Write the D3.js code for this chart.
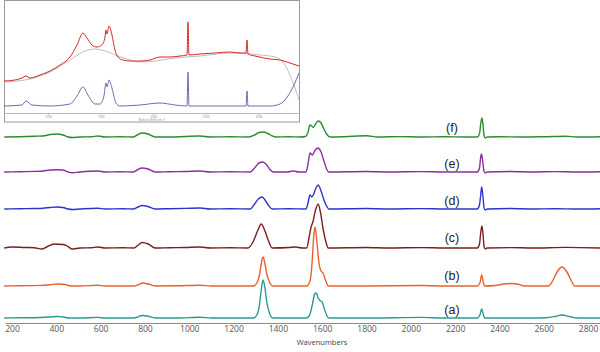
<!DOCTYPE html>
<html><head><meta charset="utf-8">
<script src="https://cdn.jsdelivr.net/npm/d3@7"></script>
<style>html,body{margin:0;padding:0;background:#fff;}svg{display:block;}</style>
</head><body>
<svg id="c" width="600" height="352"></svg>
<script>
// ---------- DATA ----------
const tickLabels = [200,400,600,800,1000,1200,1400,1600,1800,2000,2200,2400,2600,2800];
const seriesNames = ["(a)","(b)","(c)","(d)","(e)","(f)"];
const seriesColors = ["#2a9a8e","#e8612c","#7b1e1e","#2b35c8","#8b2f9b","#2e8b2e"];
const seriesOffsets = [0,32,70,109,146,181];

const specA = [[165,0],[236,0.2],[330,0.5],[372,1],[403,1.5],[430,1],[460,0],[507,0],[588,0.6],[620,0],[700,0],[750,0],[770,1.2],[787,2.5],[810,2],[846,0],[950,0],[1049,0.8],[1100,0],[1200,0],[1290,0],[1305,3],[1316,12],[1325,28],[1333,38],[1341,31],[1350,16],[1362,5],[1378,0],[1450,0],[1530,0],[1545,4],[1558,16],[1566,24],[1573,25],[1582,20],[1592,17],[1600,16],[1610,9],[1620,3],[1630,0],[1800,0],[2050,0.6],[2150,0],[2300,0],[2312,3],[2320,9],[2327,4],[2333,0],[2400,0],[2550,0],[2610,0.3],[2650,1.5],[2683,3],[2715,1.5],[2750,0],[2855,0]];
const specB = [[165,0],[236,0.3],[330,0.6],[372,1.3],[410,2],[440,1.5],[465,0],[507,0],[588,0.8],[620,0],[700,0],[750,0],[772,1.5],[790,3],[815,2],[846,0],[950,0.2],[1049,0.8],[1100,0],[1200,0],[1290,0],[1305,3],[1316,10],[1325,22],[1333,29],[1341,23],[1350,12],[1362,4],[1378,0],[1450,0],[1530,0],[1545,5],[1555,25],[1562,50],[1568,59],[1575,47],[1585,24],[1595,15],[1604,13],[1615,6],[1628,0],[1800,0],[2050,0.5],[2150,0],[2300,0],[2312,3],[2320,11],[2327,4],[2333,0],[2380,0.5],[2420,2],[2450,2.5],[2490,1.5],[2510,0],[2620,0],[2640,5],[2660,14],[2683,19],[2705,14],[2725,5],[2740,0],[2855,0]];
const specC = [[165,0],[200,1],[260,0.5],[300,0.3],[335,-1],[360,1.5],[390,4],[430,3.5],[450,2],[470,-1],[507,0],[560,0.3],[588,1],[620,0],[700,0.2],[750,0],[770,3],[787,5.5],[815,4],[846,0],[913,0.3],[981,0.5],[1049,1],[1094,0],[1184,0.3],[1265,0],[1290,7],[1310,18],[1325,24],[1340,18],[1358,7],[1374,0],[1450,0.5],[1480,1],[1510,0],[1530,0],[1542,12],[1550,21],[1558,26],[1570,38],[1582,44],[1592,36],[1605,18],[1617,6],[1627,0],[1800,0.5],[1900,0],[2050,0.4],[2150,0],[2300,0],[2310,4],[2316,16],[2321,22],[2326,14],[2331,1],[2337,-1],[2345,0],[2450,0.4],[2550,0],[2700,0.6],[2855,0]];
const specD = [[165,0],[236,0.3],[304,0.5],[340,0.8],[372,1.5],[403,2],[430,1.5],[453,0],[471,-0.5],[507,0],[588,0.8],[620,0],[700,0.2],[746,0],[769,2],[787,3.5],[814,2.5],[846,0],[913,0.3],[981,0.6],[1049,1],[1094,0],[1184,0.3],[1275,0],[1295,5],[1312,10],[1329,12],[1345,8],[1360,3],[1374,0],[1450,0.3],[1527,0],[1536,6],[1545,14],[1553,12],[1562,15],[1572,21],[1582,24],[1595,18],[1608,9],[1620,3],[1630,0],[1800,0.5],[1900,0],[2050,0.4],[2150,0],[2300,0],[2310,4],[2316,15],[2320,22],[2325,14],[2331,1],[2337,-1],[2345,0],[2450,0.5],[2550,0],[2650,0.3],[2750,0],[2855,0.3]];
const specE = [[165,0],[236,0.3],[304,0.6],[340,1],[372,2],[403,2.3],[430,2],[453,0],[471,-0.8],[507,0],[588,1],[620,0],[688,0.2],[746,0],[769,2.5],[787,4],[814,3],[846,0],[913,0.3],[981,0.5],[1049,1],[1094,0],[1184,0.3],[1275,0],[1295,4],[1315,9],[1333,10],[1350,7],[1366,2],[1380,0],[1440,0],[1470,1],[1495,0],[1527,0],[1536,8],[1545,19],[1556,17],[1566,21],[1580,24],[1595,20],[1608,11],[1620,3],[1630,0],[1800,0.5],[1900,0],[2050,0.4],[2150,0],[2300,0],[2310,4],[2315,14],[2319,18],[2324,12],[2330,1],[2336,-1],[2345,0],[2450,0.5],[2550,0],[2650,0.4],[2750,0],[2855,0.3]];
const specF = [[165,0],[236,0.3],[304,0.8],[340,1],[372,2.5],[403,3],[430,2],[453,0],[471,-0.5],[507,0],[560,0.3],[588,1],[620,0],[688,0.2],[746,0],[769,2.5],[787,4],[814,3],[846,0],[913,0],[981,0.5],[1049,1],[1094,0],[1184,0.3],[1270,0],[1295,2],[1315,4.5],[1333,5],[1355,3.5],[1375,1],[1390,0],[1450,0.3],[1500,0],[1525,0.5],[1535,4],[1545,12],[1553,11],[1560,9.5],[1570,13],[1582,16],[1595,14],[1608,8],[1620,3],[1636,0],[1700,0.3],[1800,1.2],[1850,0],[1950,0.4],[2050,0],[2150,0.3],[2250,0],[2300,0],[2310,3],[2316,14],[2321,19],[2326,12],[2331,1],[2337,-1],[2345,0],[2400,0.2],[2500,0],[2600,0.3],[2700,0.8],[2750,0],[2855,0.3]];
const spectra = [specA, specB, specC, specD, specE, specF];

// Inset (Raman shift, cm-1)
const insetTicks = [1000,1500,2000,2500,3000];
const insetRaw = [[582,32],[686,33],[753,35],[791,37],[829,35],[924,38],[1019,42],[1114,48],[1209,56],[1276,68],[1333,80],[1371,75],[1418,68],[1466,66],[1513,68],[1542,76],[1551,83],[1561,79],[1580,87],[1608,78],[1637,63],[1665,56],[1713,53],[1779,52],[1875,52],[1970,53],[2065,56],[2160,56],[2255,57],[2321,58],[2331,91],[2340,58],[2445,59],[2587,60],[2730,61],[2825,60],[2882,60],[2892,73],[2901,59],[2968,57],[3110,54],[3205,53],[3300,50],[3386,47]];
const insetBackground = [[582,31],[829,34],[1019,41],[1209,53],[1352,62],[1447,64],[1542,62],[1665,57],[1779,53],[1875,51],[2018,52],[2208,55],[2445,57],[2730,60],[3015,58],[3158,56],[3234,51],[3300,38],[3348,25],[3386,13]];
const insetCorrected = [[582,7],[753,8],[791,12],[848,8],[1019,7],[1209,9],[1276,17],[1333,26],[1380,18],[1447,9],[1494,9],[1532,17],[1551,30],[1561,26],[1580,33],[1608,25],[1646,10],[1684,7],[1875,8],[2065,10],[2208,8],[2321,7],[2331,41],[2340,7],[2635,7],[2882,7],[2892,22],[2901,7],[3110,7],[3205,9],[3281,17],[3338,28],[3386,40]];

// ---------- DRAW ----------
const svg = d3.select("#c");
const x = d3.scaleLinear().domain([168.4, 2854]).range([5, 600]);
const y = d3.scaleLinear().domain([0, 200]).range([318, 118]);

// axis
const axisG = svg.append("g").attr("transform","translate(0,323)")
  .call(d3.axisBottom(x).tickValues(tickLabels).tickSize(0).tickPadding(3).tickFormat(d3.format("d")));
axisG.select(".domain").attr("stroke","#8a8a8a").attr("stroke-width",1);
axisG.selectAll("text").attr("fill","#555").attr("font-family","'Open Sans', sans-serif").attr("font-size","8.5px");

svg.append("text").attr("x",322).attr("y",345).attr("text-anchor","middle")
  .attr("font-family","'Open Sans', sans-serif").attr("font-size","7.5px").attr("fill","#444").text("Wavenumbers");

const line = d3.line().curve(d3.curveMonotoneX);
spectra.forEach((s,i)=>{
  line.x(d=>x(d[0])).y(d=>y(d[1]+seriesOffsets[i]));
  svg.append("path").datum(s).attr("d",line).attr("fill","none")
    .attr("stroke",seriesColors[i]).attr("stroke-width",1.4).attr("stroke-linejoin","round");
});

// labels
const labelY = [309.5, 276, 237.5, 200.5, 163.5, 127.5];
seriesNames.forEach((n,i)=>{
  svg.append("text").attr("x",452).attr("y",labelY[i]).attr("dy","0.35em").attr("text-anchor","middle")
    .attr("font-family","'Liberation Sans', Arial, sans-serif").attr("font-size","12.5px").attr("fill","#222").text(n);
});

// inset
const ix = d3.scaleLinear().domain([582, 3386]).range([4, 299]);
const iy = d3.scaleLinear().domain([0, 113]).range([113, 0]);
const inset = svg.append("g");
inset.append("rect").attr("x",4.5).attr("y",0.5).attr("width",295).attr("height",121.5)
  .attr("fill","#fff").attr("stroke","#9a9a9a").attr("stroke-width",1);
const iax = inset.append("g").attr("transform","translate(0,113)")
  .call(d3.axisBottom(ix).tickValues(insetTicks).tickSize(1.5).tickPadding(1).tickFormat(d3.format("d")));
iax.select(".domain").attr("stroke","#aaa").attr("stroke-width",0.8);
iax.selectAll("line").attr("stroke","#aaa");
iax.selectAll("text").attr("fill","#888").attr("font-size","3px").attr("font-family","'Open Sans', sans-serif");
inset.append("text").attr("x",152).attr("y",121).attr("text-anchor","middle").attr("font-size","3px")
  .attr("fill","#888").attr("font-family","'Open Sans', sans-serif").text("Raman Shift (cm-1)");

const iline = d3.line().x(d=>ix(d[0])).y(d=>iy(d[1])).curve(d3.curveMonotoneX);
inset.append("path").datum(insetBackground).attr("d",iline).attr("fill","none").attr("stroke","#b5b5b5").attr("stroke-width",0.9);
inset.append("path").datum(insetRaw).attr("d",iline).attr("fill","none").attr("stroke","#d42a2a").attr("stroke-width",1);
inset.append("path").datum(insetCorrected).attr("d",iline).attr("fill","none").attr("stroke","#5b5ea6").attr("stroke-width",0.9);
</script>
</body></html>
